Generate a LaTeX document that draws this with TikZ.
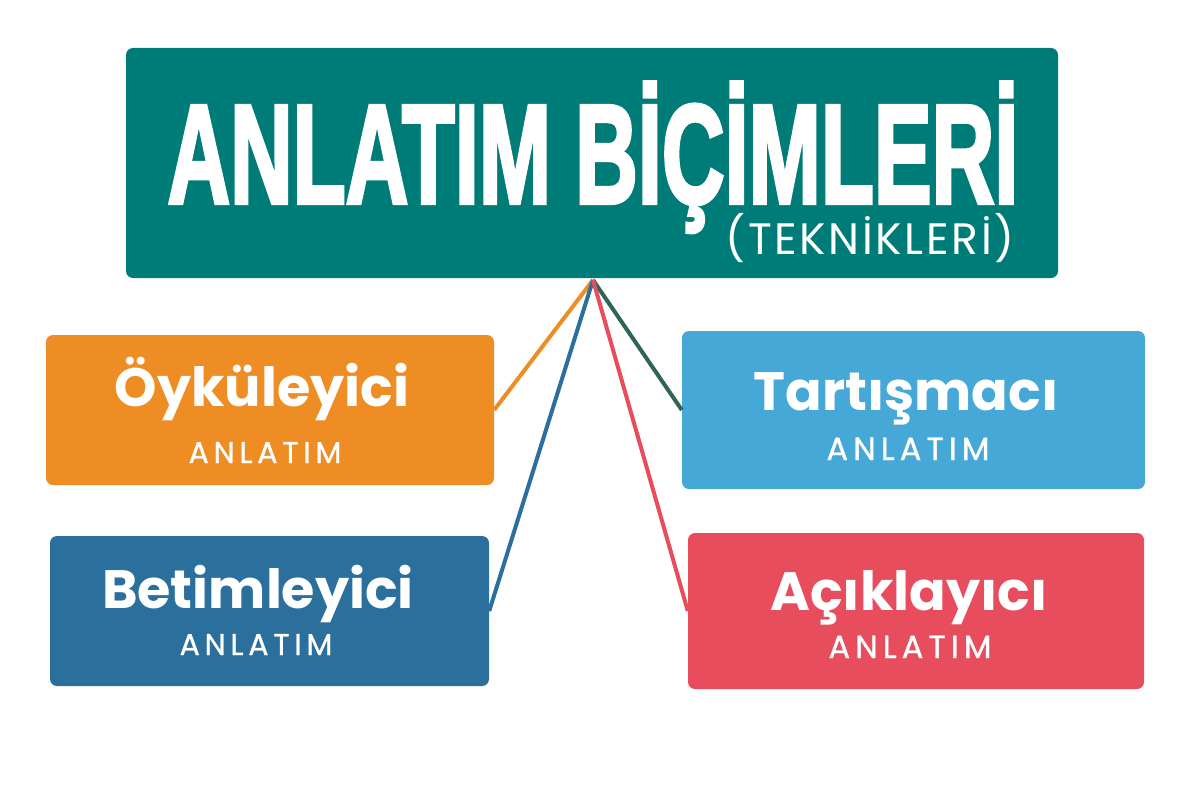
\documentclass[tikz,border=0pt]{standalone}
\usepackage{fontspec}
\usepackage{graphicx}
\setmainfont{Poppins}
\newfontfamily\titlefont{Liberation Sans}[FakeBold=3]
\newfontfamily\subfont{Poppins}[LetterSpace=6]
\newfontfamily\spacedfont{Poppins}[LetterSpace=16,FakeBold=1]
\definecolor{tealC}{RGB}{0,124,120}
\definecolor{orangeC}{RGB}{238,141,35}
\definecolor{blueC}{RGB}{43,111,157}
\definecolor{lblueC}{RGB}{69,168,215}
\definecolor{redC}{RGB}{232,77,93}
\definecolor{greenC}{RGB}{46,101,87}
\tikzset{
  box/.style={rounded corners=7pt, inner sep=0pt},
  conn/.style={line width=4pt},
  headtxt/.style={anchor=base, text=white, inner sep=0pt, font=\bfseries\fontsize{54pt}{54pt}\selectfont},
  subtxt/.style={anchor=base, text=white, inner sep=0pt, font=\spacedfont\fontsize{30pt}{30pt}\selectfont},
  subtxtR/.style={subtxt, font=\spacedfont\fontsize{32pt}{32pt}\selectfont},
}
\begin{document}
\begin{tikzpicture}[x=1pt,y=-1pt]
\useasboundingbox (0,0) rectangle (1200,800);
\fill[white] (0,0) rectangle (1200,800);
\coordinate (o) at (593,280);
% boxes
\node[box, fill=tealC, minimum width=932pt, minimum height=230pt] (title) at (592,163) {};
\node[box, fill=orangeC, minimum width=448pt, minimum height=150pt] (oyku) at (270,410) {};
\node[box, fill=blueC, minimum width=439pt, minimum height=150pt] (betim) at (269.5,611) {};
\node[box, fill=lblueC, minimum width=463pt, minimum height=158pt] (tart) at (913.5,410) {};
\node[box, fill=redC, minimum width=456pt, minimum height=156pt] (acik) at (916,611) {};
% connectors
\draw[conn, orangeC] (o) -- (oyku.east);
\draw[conn, blueC] (o) -- (betim.east);
\draw[conn, greenC] (o) -- (tart.west);
\draw[conn, redC] (o) -- (acik.west);
% title text
\node[anchor=base, text=white, inner sep=0pt] (titleT) at (593,203)
  {\raisebox{0pt}[\height][0pt]{\titlefont\bfseries\fontsize{141pt}{141pt}\selectfont\scalebox{0.615}[1]{ANLATIM BİÇİMLERİ}}};
\node[anchor=base, text=white, inner sep=0pt] (titleS) at (870,254)
  {\subfont\fontsize{44pt}{44pt}\selectfont (TEKNİKLERİ)};
% box texts
\node[headtxt] (oykuT) at (262,406) {Öyküleyici};
\node[subtxt] (oykuA) at (265,463) {ANLATIM};
\node[headtxt] (betimT) at (258,608) {Betimleyici};
\node[subtxt] (betimA) at (256,655) {ANLATIM};
\node[headtxt] (tartT) at (906,410) {Tartışmacı};
\node[subtxtR] (tartA) at (908,460) {ANLATIM};
\node[headtxt] (acikT) at (909,610) {Açıklayıcı};
\node[subtxtR] (acikA) at (910,658) {ANLATIM};
\end{tikzpicture}
\end{document}
